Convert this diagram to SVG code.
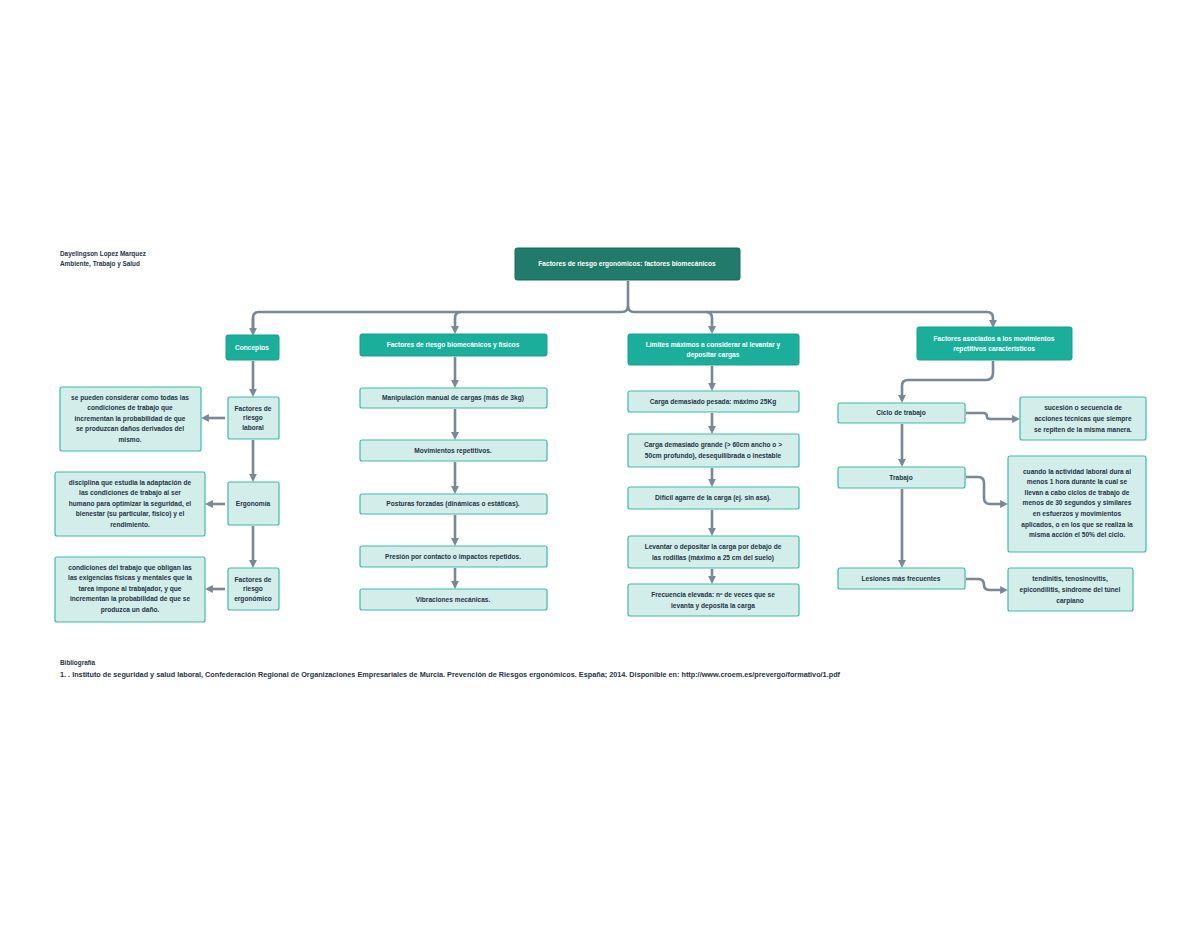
<svg xmlns="http://www.w3.org/2000/svg" width="1200" height="927" viewBox="0 0 1200 927">
<style>
.bg{fill:#fff}
.main{fill:#217a6a;stroke:#1c6a5c;stroke-width:1}
.sec{fill:#1baf9b;stroke:#17a08d;stroke-width:1}
.box{fill:#d3eeea;stroke:#3dbba8;stroke-width:1.2}
.lw{font-family:"Liberation Sans",Arial,sans-serif;font-size:6.6px;font-weight:bold;fill:#fff;text-anchor:middle}
.ld{font-family:"Liberation Sans",Arial,sans-serif;font-size:6.6px;font-weight:bold;fill:#253344;text-anchor:middle}
.hd{font-family:"Liberation Sans",Arial,sans-serif;font-size:6.4px;font-weight:bold;fill:#253344}
.c{fill:none;stroke:#7a8797;stroke-width:2.6;marker-end:url(#ah)}
.cn{fill:none;stroke:#7a8797;stroke-width:2.6}
</style>
<defs>
<marker id="ah" markerWidth="3" markerHeight="3" refX="1.5" refY="1.5" orient="auto" markerUnits="strokeWidth">
<path d="M0,0 L3,1.5 L0,3 Z" fill="#7a8797"/>
</marker>
</defs>
<rect class="bg" width="1200" height="927"/>
<text class="hd" x="60" y="256">Dayelingson Lopez Marquez</text>
<text class="hd" x="60" y="266">Ambiente, Trabajo y Salud</text>

<g id="connectors">
<path class="cn" d="M628,281 V306 Q628,312 622,312 H259 Q253,312 253,318 V332"/>
<path class="c" d="M628,306 Q628,312 634,312 H987 Q993,312 993,318 V324"/>
<path class="c" d="M461,312 Q455,312 455,318 V330"/>
<path class="c" d="M706,312 Q712,312 712,318 V330"/>
<path class="c" d="M253,318 V332"/>
<path class="c" d="M253,361 V393"/>
<path class="c" d="M253,440 V478"/>
<path class="c" d="M253,526 V564"/>
<path class="c" d="M225,418 H205"/>
<path class="c" d="M225,504 H209"/>
<path class="c" d="M225,589 H209"/>
<path class="c" d="M455,357 V384"/>
<path class="c" d="M455,409 V436"/>
<path class="c" d="M455,462 V490"/>
<path class="c" d="M455,515 V542"/>
<path class="c" d="M455,568 V585"/>
<path class="c" d="M712,366 V387"/>
<path class="c" d="M712,413 V430"/>
<path class="c" d="M712,468 V483"/>
<path class="c" d="M712,510 V532"/>
<path class="c" d="M712,569 V580"/>
<path class="c" d="M993,361 V373 Q993,380 986,380 H908 Q902,380 902,386 V399"/>
<path class="c" d="M902,424 V463"/>
<path class="c" d="M902,489 V564"/>
<path class="c" d="M966,413 H983 Q987,413 987,417 Q987,419 991,419 H1016"/>
<path class="c" d="M966,477 H978 Q984,477 984,483 V498 Q984,504 990,504 H1004"/>
<path class="c" d="M966,579 H978 Q984,579 984,585 Q984,590 990,590 H1004"/>
</g>

<g id="root"><rect class="main" x="515" y="248" width="225" height="32" rx="2"/><text class="lw" x="627" y="266">Factores de riesgo ergonómicos: factores biomecánicos</text></g>

<g id="conceptos"><rect class="sec" x="226" y="335" width="53" height="25" rx="2"/><text class="lw" x="252" y="350">Conceptos</text></g>
<g id="biomec"><rect class="sec" x="360" y="334" width="187" height="22" rx="2"/><text class="lw" x="453" y="347">Factores de riesgo biomecánicos y físicos</text></g>
<g id="limites"><rect class="sec" x="628" y="334" width="171" height="31" rx="2"/><text class="lw" x="713" y="347">Límites máximos a considerar al levantar y</text><text class="lw" x="713" y="357">depositar cargas</text></g>
<g id="asociados"><rect class="sec" x="917" y="327" width="155" height="33" rx="2"/><text class="lw" x="994" y="341">Factores asociados a los movimientos</text><text class="lw" x="994" y="351">repetitivos característicos</text></g>

<g id="frl"><rect class="box" x="228" y="397" width="51" height="42" rx="2"/><text class="ld" x="253" y="411">Factores de</text><text class="ld" x="253" y="420">riesgo</text><text class="ld" x="253" y="430">laboral</text></g>
<g id="ergo"><rect class="box" x="228" y="482" width="51" height="43" rx="2"/><text class="ld" x="253" y="506">Ergonomía</text></g>
<g id="fre"><rect class="box" x="228" y="568" width="51" height="42" rx="2"/><text class="ld" x="253" y="582">Factores de</text><text class="ld" x="253" y="591">riesgo</text><text class="ld" x="253" y="601">ergonómico</text></g>

<g id="def1"><rect class="box" x="60" y="387" width="141" height="64" rx="2"/>
<text class="ld" x="130" y="400">se pueden considerar como todas las</text><text class="ld" x="130" y="410">condiciones de trabajo que</text><text class="ld" x="130" y="421">incrementan la probabilidad de que</text><text class="ld" x="130" y="431">se produzcan daños derivados del</text><text class="ld" x="130" y="442">mismo.</text></g>
<g id="def2"><rect class="box" x="55" y="472" width="150" height="64" rx="2"/>
<text class="ld" x="130" y="485">disciplina que estudia la adaptación de</text><text class="ld" x="130" y="495">las condiciones de trabajo al ser</text><text class="ld" x="130" y="506">humano para optimizar la seguridad, el</text><text class="ld" x="130" y="516">bienestar (su particular, físico) y el</text><text class="ld" x="130" y="527">rendimiento.</text></g>
<g id="def3"><rect class="box" x="55" y="557" width="150" height="65" rx="2"/>
<text class="ld" x="130" y="570">condiciones del trabajo que obligan las</text><text class="ld" x="130" y="580">las exigencias físicas y mentales que la</text><text class="ld" x="130" y="591">tarea impone al trabajador, y que</text><text class="ld" x="130" y="601">incrementan la probabilidad de que se</text><text class="ld" x="130" y="612">produzca un daño.</text></g>

<g id="m1"><rect class="box" x="360" y="388" width="187" height="20" rx="2"/><text class="ld" x="453" y="400">Manipulación manual de cargas (más de 3kg)</text></g>
<g id="m2"><rect class="box" x="360" y="440" width="187" height="21" rx="2"/><text class="ld" x="453" y="453">Movimientos repetitivos.</text></g>
<g id="m3"><rect class="box" x="360" y="494" width="187" height="20" rx="2"/><text class="ld" x="453" y="506">Posturas forzadas (dinámicas o estáticas).</text></g>
<g id="m4"><rect class="box" x="360" y="546" width="187" height="21" rx="2"/><text class="ld" x="453" y="559">Presión por contacto o impactos repetidos.</text></g>
<g id="m5"><rect class="box" x="360" y="589" width="187" height="21" rx="2"/><text class="ld" x="453" y="602">Vibraciones mecánicas.</text></g>

<g id="l1"><rect class="box" x="628" y="391" width="171" height="21" rx="2"/><text class="ld" x="713" y="404">Carga demasiado pesada: máximo 25Kg</text></g>
<g id="l2"><rect class="box" x="628" y="434" width="171" height="33" rx="2"/><text class="ld" x="713" y="447">Carga demasiado grande (&gt; 60cm ancho o &gt;</text><text class="ld" x="713" y="458">50cm profundo), desequilibrada o inestable</text></g>
<g id="l3"><rect class="box" x="628" y="487" width="171" height="22" rx="2"/><text class="ld" x="713" y="500">Difícil agarre de la carga (ej. sin asa).</text></g>
<g id="l4"><rect class="box" x="628" y="536" width="171" height="32" rx="2"/><text class="ld" x="713" y="549">Levantar o depositar la carga por debajo de</text><text class="ld" x="713" y="560">las rodillas (máximo a 25 cm del suelo)</text></g>
<g id="l5"><rect class="box" x="628" y="584" width="171" height="32" rx="2"/><text class="ld" x="713" y="597">Frecuencia elevada: nº de veces que se</text><text class="ld" x="713" y="608">levanta y deposita la carga</text></g>

<g id="ciclo"><rect class="box" x="838" y="403" width="127" height="20" rx="2"/><text class="ld" x="901" y="415">Ciclo de trabajo</text></g>
<g id="trabajo"><rect class="box" x="838" y="467" width="127" height="21" rx="2"/><text class="ld" x="901" y="480">Trabajo</text></g>
<g id="lesiones"><rect class="box" x="838" y="568" width="127" height="21" rx="2"/><text class="ld" x="901" y="581">Lesiones más frecuentes</text></g>

<g id="r1"><rect class="box" x="1020" y="397" width="126" height="43" rx="2"/><text class="ld" x="1083" y="410">sucesión o secuencia de</text><text class="ld" x="1083" y="421">acciones técnicas que siempre</text><text class="ld" x="1083" y="432">se repiten de la misma manera.</text></g>
<g id="r2"><rect class="box" x="1008" y="456" width="138" height="96" rx="2"/>
<text class="ld" x="1077" y="474">cuando la actividad laboral dura al</text><text class="ld" x="1077" y="484">menos 1 hora durante la cual se</text><text class="ld" x="1077" y="495">llevan a cabo ciclos de trabajo de</text><text class="ld" x="1077" y="505">menos de 30 segundos y similares</text><text class="ld" x="1077" y="516">en esfuerzos y movimientos</text><text class="ld" x="1077" y="527">aplicados, o en los que se realiza la</text><text class="ld" x="1077" y="537">misma acción el 50% del ciclo.</text></g>
<g id="r3"><rect class="box" x="1008" y="568" width="125" height="43" rx="2"/><text class="ld" x="1070" y="581">tendinitis, tenosinovitis,</text><text class="ld" x="1070" y="592">epicondilitis, síndrome del túnel</text><text class="ld" x="1070" y="603">carpiano</text></g>

<text class="hd" x="60" y="665">Bibliografía</text>
<text class="hd" x="60" y="677" textLength="780" lengthAdjust="spacingAndGlyphs">1. . Instituto de seguridad y salud laboral, Confederación Regional de Organizaciones Empresariales de Murcia. Prevención de Riesgos ergonómicos. España; 2014. Disponible en: http://www.croem.es/prevergo/formativo/1.pdf</text>
</svg>
